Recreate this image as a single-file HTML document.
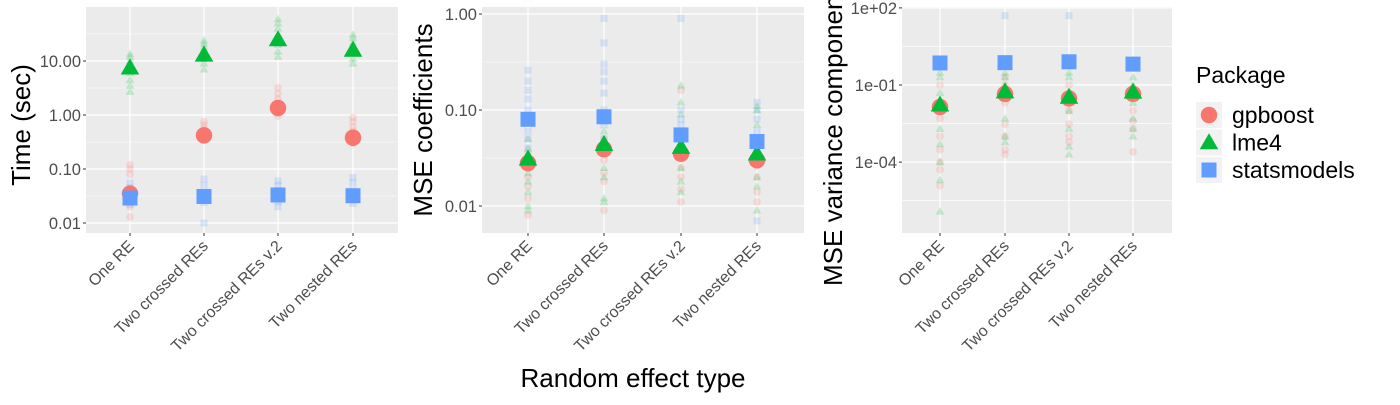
<!DOCTYPE html>
<html><head><meta charset="utf-8"><style>
body{margin:0;background:#fff;width:1400px;height:400px;overflow:hidden}
svg{font-family:"Liberation Sans",Arial,sans-serif}
</style></head><body>
<svg id="c" width="1400" height="400"></svg>
<script>
const categories=["One RE","Two crossed REs","Two crossed REs v.2","Two nested REs"];
const packages=["gpboost","lme4","statsmodels"];
const colors=["#F8766D","#00BA38","#619CFF"];
// Panel 1: Time (sec)
const timeGp=[0.035,0.42,1.35,0.38];
const timeLme=[7.5,13,25,16];
const timeSm=[0.029,0.031,0.033,0.032];
const timeGpPts=[[0.013,0.02,0.025,0.03,0.04,0.08,0.1,0.12],[0.35,0.45,0.55,0.65,0.75],[0.95,1.1,1.5,2,2.5,3.2],[0.3,0.35,0.5,0.6,0.75,0.9]];
const timeLmePts=[[2.7,3.5,4.5,6,8,10,12,13.5],[7,9,11,15,18,21,24],[12,15,20,30,40,50,60],[9,11,14,18,22,27,31]];
const timeSmPts=[[0.022,0.025,0.035,0.045,0.055],[0.01,0.024,0.035,0.05,0.065],[0.02,0.025,0.04,0.05,0.06],[0.023,0.027,0.04,0.055,0.07]];
// Panel 2: MSE coefficients
const coefGp=[0.028,0.039,0.035,0.03];
const coefLme=[0.031,0.044,0.041,0.035];
const coefSm=[0.08,0.085,0.055,0.047];
const coefGpPts=[[0.008,0.012,0.016,0.02,0.025,0.035],[0.009,0.018,0.022,0.03,0.05],[0.011,0.015,0.02,0.025,0.032,0.16],[0.011,0.014,0.02,0.026,0.04]];
const coefLmePts=[[0.009,0.01,0.014,0.018,0.022,0.04,0.05],[0.011,0.012,0.02,0.025,0.035,0.06,0.08],[0.014,0.018,0.025,0.06,0.09,0.12,0.18],[0.009,0.016,0.02,0.05,0.07,0.1,0.11]];
const coefSmPts=[[0.04,0.05,0.06,0.1,0.13,0.16,0.2,0.26],[0.05,0.07,0.1,0.15,0.2,0.25,0.3,0.5,0.9],[0.04,0.05,0.07,0.08,0.1,0.9],[0.007,0.03,0.06,0.08,0.1,0.12]];
// Panel 3: MSE variance components
const varGp=[0.014,0.045,0.03,0.045];
const varLme=[0.017,0.055,0.034,0.054];
const varSm=[0.72,0.74,0.8,0.65];
const varGpPts=[[0.000012,0.00005,0.0001,0.0003,0.001,0.005,0.02,0.1],[0.0002,0.0003,0.001,0.003,0.02,0.1,0.2],[0.0006,0.001,0.003,0.01,0.05,0.1],[0.00025,0.002,0.004,0.01,0.03]];
const varLmePts=[[0.0000012,0.00002,0.0001,0.0005,0.002,0.01,0.05,0.2,0.3],[0.0006,0.001,0.005,0.03,0.1,0.2,0.3],[0.0002,0.0004,0.002,0.01,0.05,0.2,0.3],[0.001,0.002,0.005,0.02,0.1,0.2]];
const varSmPts=[[],[50],[50],[]];
const timeTicks=["10.00","1.00","0.10","0.01"];
const coefTicks=["1.00","0.10","0.01"];
const varTicks=["1e+02","1e-01","1e-04"];

const S="http://www.w3.org/2000/svg";
const svg=document.getElementById('c');
function el(t,a,p){const e=document.createElementNS(S,t);for(const k in a)e.setAttribute(k,a[k]);(p||svg).appendChild(e);return e;}

const panels=[
 {name:"time",x0:86,x1:398,y0:7,y1:233,cx:[130,204,278,353],ref:0.1,refY:169,ppd:54,tickVals:[10,1,0.1,0.01],ticks:timeTicks,means:[timeGp,timeLme,timeSm],pts:[timeGpPts,timeLmePts,timeSmPts],title:"Time (sec)",tx:30,ty:125,anchor:"middle"},
 {name:"coef",x0:482,x1:804,y0:7,y1:233,cx:[528,604,681,757],ref:0.1,refY:110,ppd:96,tickVals:[1,0.1,0.01],ticks:coefTicks,means:[coefGp,coefLme,coefSm],pts:[coefGpPts,coefLmePts,coefSmPts],title:"MSE coefficients",tx:432,ty:120,anchor:"middle"},
 {name:"var",x0:902,x1:1172,y0:7,y1:233,cx:[940,1005,1069,1133],ref:0.1,refY:85,ppd:25.7,tickVals:[100,0.1,0.0001],ticks:varTicks,means:[varGp,varLme,varSm],pts:[varGpPts,varLmePts,varSmPts],title:"MSE variance components",tx:842,ty:286,anchor:"start",step:3}
];

function marker(g,pk,x,y,s,op){
 let e;
 if(pk===0)e=el('circle',{cx:x,cy:y,r:s*0.55,fill:colors[0],'fill-opacity':op},g);
 else if(pk===1)e=el('polygon',{points:`${x},${y-s*0.62} ${x+s*0.62},${y+s*0.45} ${x-s*0.62},${y+s*0.45}`,fill:colors[1],'fill-opacity':op},g);
 else e=el('rect',{x:x-s/2,y:y-s/2,width:s,height:s,fill:colors[2],'fill-opacity':op},g);
 return e;
}

panels.forEach(p=>{
 const Y=v=>p.refY-p.ppd*Math.log10(v/p.ref);
 const g=el('g',{});
 
 
 const bg=el('rect',{x:p.x0,y:p.y0,width:p.x1-p.x0,height:p.y1-p.y0,fill:'#EBEBEB'},g);
 
 const step=p.step||1;
 for(let i=0;i<p.tickVals.length+1;i++){
  const v=p.tickVals[0]*Math.pow(10,-step*(i-1)-step/2);
  const y=Y(v); if(y>p.y0&&y<p.y1){el('line',{x1:p.x0,x2:p.x1,y1:y,y2:y,stroke:'#fff','stroke-width':0.6},g);}
 }
 p.tickVals.forEach((v,i)=>{
  const y=Y(v);
  el('line',{x1:p.x0,x2:p.x1,y1:y,y2:y,stroke:'#fff','stroke-width':1.2},g);
  el('line',{x1:p.x0-3,x2:p.x0,y1:y,y2:y,stroke:'#333','stroke-width':1},g);
  const t=el('text',{x:p.x0-5,y:y+6,'text-anchor':'end','font-size':16.5,fill:'#4D4D4D'},g);t.textContent=p.ticks[i];
  
 });
 p.cx.forEach((x,i)=>{
  el('line',{x1:x,x2:x,y1:p.y0,y2:p.y1,stroke:'#fff','stroke-width':1.2},g);
  el('line',{x1:x,x2:x,y1:p.y1,y2:p.y1+3,stroke:'#333','stroke-width':1},g);
  const t=el('text',{x:x+5,y:p.y1+14,'text-anchor':'end','font-size':16,fill:'#4D4D4D',transform:`rotate(-45 ${x+5} ${p.y1+14})`},g);t.textContent=categories[i];
  
 });
 [0,1,2].forEach(pk=>{p.pts[pk].forEach((arr,i)=>{arr.forEach(v=>{const y=Y(v);if(y>=p.y0&&y<=p.y1){const m=marker(g,pk,p.cx[i],y,7,0.2);}});});});
 [0,1,2].forEach(pk=>{p.means[pk].forEach((v,i)=>{const m=marker(g,pk,p.cx[i],Y(v),15,1);});});
 const tt=el('text',{x:p.tx,y:p.ty,'text-anchor':p.anchor,'font-size':26,fill:'#000',transform:`rotate(-90 ${p.tx} ${p.ty})`},g);
 tt.textContent=p.title;
});
const xt=el('text',{x:633,y:387,'text-anchor':'middle','font-size':26,fill:'#000'});xt.textContent="Random effect type";

const lg=el('g',{});
const lt=el('text',{x:1196,y:83,'font-size':23,fill:'#000'},lg);lt.textContent="Package";

packages.forEach((pk,i)=>{
 const y=115+i*27.5;
 el('rect',{x:1196,y:y-13,width:26,height:26,fill:'#F2F2F2'},lg);
 marker(lg,i,1209,y,15,1);
 const t=el('text',{x:1232,y:y+8,'font-size':23,fill:'#000'},lg);t.textContent=pk;
 
});
</script>
</body></html>
